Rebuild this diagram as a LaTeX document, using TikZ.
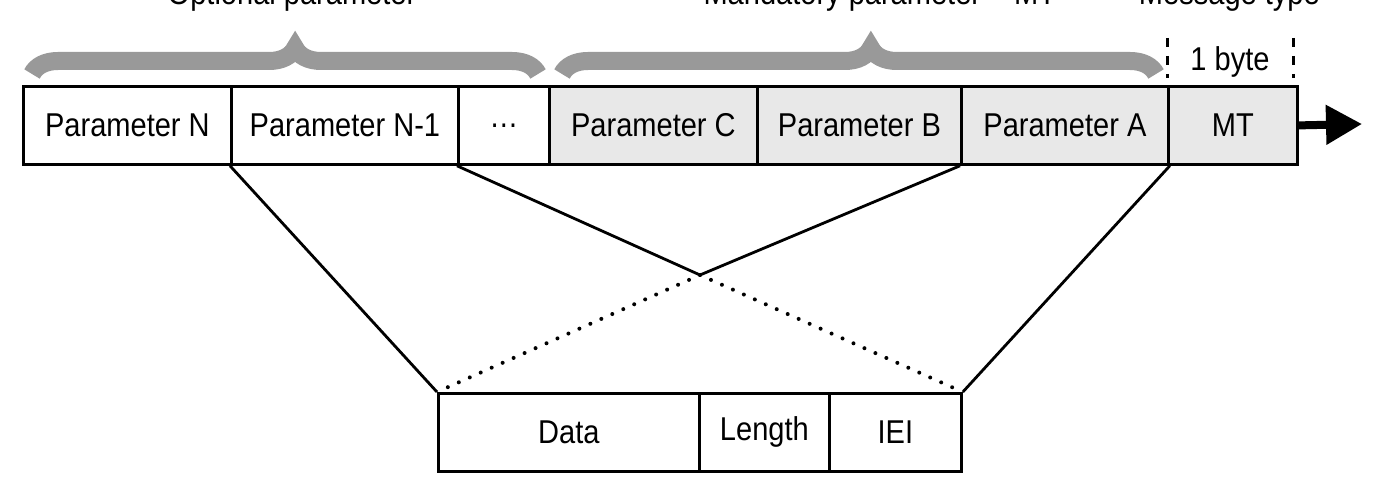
\documentclass[tikz,border=0pt]{standalone}
\usepackage{fontspec}
\setmainfont{Liberation Sans}[FakeStretch=0.88]
\usetikzlibrary{decorations.pathreplacing,arrows.meta}
\definecolor{shade}{HTML}{E8E8E8}
\definecolor{brc}{HTML}{999999}
\begin{document}
\begin{tikzpicture}[x=1pt,y=-1pt,
  box/.style={draw,line width=2.8pt,minimum height=78pt,inner sep=0pt,font=\fontsize{33}{36}\selectfont},
  lbl/.style={font=\fontsize{33}{36}\selectfont},
  br/.style={draw=brc,line width=18pt,decorate,decoration={brace,amplitude=26pt,aspect=#1}},
  ln/.style={line width=2.8pt}]
\useasboundingbox (0,0) rectangle (1378,486);
\node[box,minimum width=208pt,anchor=north west] (pn) at (22,85) {Parameter N};
\node[box,minimum width=227pt,anchor=north west] (pn1) at (230,85) {Parameter N-1};
\node[box,minimum width=91pt,anchor=north west] (dots) at (457,85) {\dots};
\node[box,fill=shade,minimum width=208pt,anchor=north west] (pc) at (548,85) {Parameter C};
\node[box,fill=shade,minimum width=204pt,anchor=north west] (pb) at (756,85) {Parameter B};
\node[box,fill=shade,minimum width=207pt,anchor=north west] (pa) at (960,85) {Parameter A};
\node[box,fill=shade,minimum width=129pt,anchor=north west] (mt) at (1167,85) {MT};
\coordinate (tip) at (1362,124);
\draw[line width=8pt,-{Triangle[length=36pt,width=38pt]}] (mt.east) -- (tip);
\node[box,minimum width=261pt,anchor=north west] (data) at (437,392) {Data};
\node[box,minimum width=130pt,anchor=north west] (len) at (698,392) {Length};
\node[box,minimum width=132pt,anchor=north west] (iei) at (828,392) {IEI};
\coordinate (x) at (700,275);
\draw[ln] (pn1.south west) -- (data.north west);
\draw[ln] (pa.south east) -- (iei.north east);
\draw[ln] (dots.south west) -- (x) -- (pa.south west);
\draw[line width=4pt,line cap=round,dash pattern=on 0pt off 12pt] (x) -- (data.north west);
\draw[line width=4pt,line cap=round,dash pattern=on 0pt off 12pt] (x) -- (iei.north east);
\draw[br=0.52] (32,74) -- (538,74);
\draw[br=0.52] (562,74) -- (1156,74);
\draw[line width=3pt,dash pattern=on 9pt off 9pt] (1167,38) -- (1167,78);
\draw[line width=3pt,dash pattern=on 9pt off 9pt] (1293,38) -- (1293,78);
\node[lbl] (byte) at (1230,62) {1 byte};
\node[lbl] (opt) at (292,-4) {Optional parameter};
\node[lbl,anchor=west] (man) at (700,-4) {Mandatory parameter\quad MT\quad =\quad Message type};
\end{tikzpicture}
\end{document}
